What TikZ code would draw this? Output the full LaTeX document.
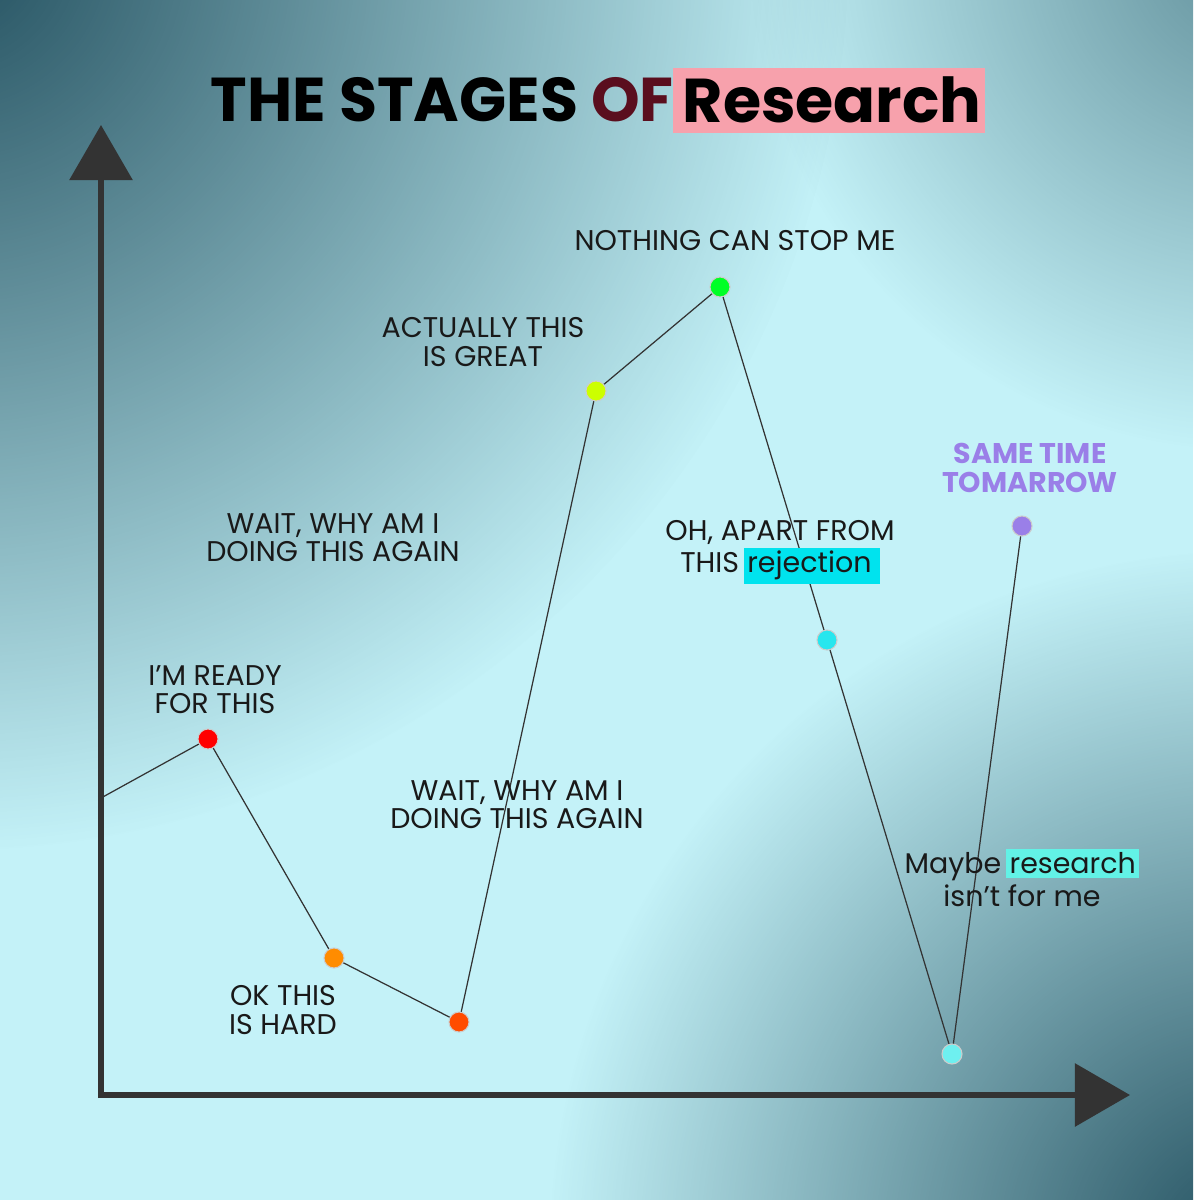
\documentclass[tikz,border=0pt]{standalone}
\usepackage{fontspec}
\setmainfont{Poppins}
\usetikzlibrary{arrows.meta,fadings}
\tikzfading[name=myfade, inner color=transparent!0, outer color=transparent!100]
\definecolor{bgin}{HTML}{C4F2F8}
\definecolor{bgout}{HTML}{23505F}
\definecolor{axc}{HTML}{333333}
\definecolor{maroon}{HTML}{5A0E1E}
\definecolor{pinkbg}{HTML}{F7A1AC}
\definecolor{cyanhl}{HTML}{00E3EE}
\definecolor{cyanhl2}{HTML}{62F2E6}
\definecolor{purp}{HTML}{9A7FE8}
\tikzset{
  lbl/.style={align=center,font=\fontsize{8.1pt}{8pt}\selectfont,text=black!90,inner sep=0pt},
  dot/.style={circle,minimum size=0.2cm,inner sep=0pt,draw=white!60!gray,line width=0.3pt},
  seg/.style={draw=black!80,line width=0.35pt},
  axis/.style={draw=axc,line width=1.7pt,-{Triangle[width=0.62cm,length=0.55cm]}}
}
\begin{document}
\begin{tikzpicture}[x=0.01cm,y=-0.01cm]
\useasboundingbox (0,0) rectangle (1193,1200);
\fill[bgin] (0,0) rectangle (1193,1200);
\begin{scope}
\clip (0,0) rectangle (1193,1200);
\fill[bgout, path fading=myfade] (-50,-50) circle (900);
\fill[bgout, path fading=myfade] (1250,1250) circle (700);
\fill[bgout!60!bgin, path fading=myfade] (1250,-50) circle (500);
\end{scope}
% title
\node[anchor=west,inner sep=0pt,font=\fontsize{17.6pt}{18pt}\selectfont\bfseries] (t1) at (210,100) {THE STAGES \textcolor{maroon}{OF}};
\fill[pinkbg] (673,68) rectangle (985,133);
\node[anchor=west,inner sep=0pt,font=\fontsize{17.6pt}{18pt}\selectfont\bfseries] (t2) at (682,100) {Research};
% axes
\coordinate (ytop) at (101,125);
\coordinate (xend) at (1130,1095);
\draw[axis] (101,1098) -- (ytop);
\draw[axis] (98,1095) -- (xend);
% points
\coordinate (s) at (101,798);
\node[dot,fill=red] (p1) at (208,739) {};
\node[dot,fill=orange!90!yellow] (p2) at (334,958) {};
\node[dot,fill=orange!60!red] (p3) at (459,1022) {};
\node[dot,fill=lime!80!yellow] (p4) at (596,391) {};
\node[dot,fill=green!85!cyan] (p5) at (720,287) {};
\node[dot,fill={rgb,255:red,40;green,230;blue,238}] (p6) at (827,640) {};
\node[dot,fill={rgb,255:red,110;green,240;blue,240}] (p7) at (952,1054) {};
\node[dot,fill=purp] (p8) at (1022,526) {};
\draw[seg] (s) -- (p1) -- (p2) -- (p3) -- (p4) -- (p5) -- (p6) -- (p7) -- (p8);
% labels
\node[lbl] (l5) at (735,241) {NOTHING CAN STOP ME};
\node[lbl] (l4) at (483,342) {ACTUALLY THIS\\IS GREAT};
\node[lbl] (lw1) at (333,538) {WAIT, WHY AM I\\DOING THIS AGAIN};
\node[lbl] (l1) at (215,690) {I'M READY\\FOR THIS};
\node[lbl] (l2) at (283,1010) {OK THIS\\IS HARD};
\node[lbl] (lw2) at (517,805) {WAIT, WHY AM I\\DOING THIS AGAIN};
\node[lbl,text=purp,font=\fontsize{8.1pt}{8pt}\selectfont\bfseries] (l8) at (1030,468) {SAME TIME\\TOMARROW};
\node[lbl] (l6) at (780,552) {OH, APART FROM\\THIS\,{\setlength{\fboxsep}{1pt}\colorbox{cyanhl}{rejection\,}}};
\node[lbl] (l7) at (1022,878) {Maybe\,{\setlength{\fboxsep}{1pt}\colorbox{cyanhl2}{research}}\\isn't for me};
\end{tikzpicture}
\end{document}
